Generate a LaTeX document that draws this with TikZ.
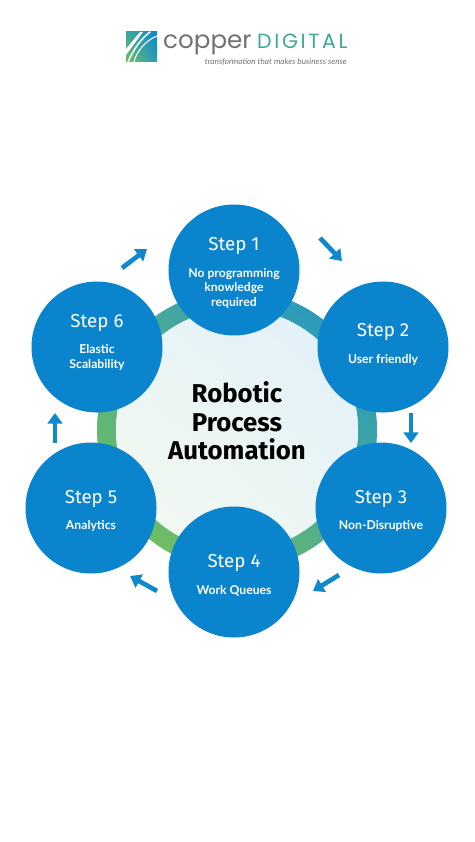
\documentclass[tikz,border=0pt]{standalone}
\usepackage{fontspec}
\setmainfont{Lato}
\newfontfamily\headfont{Fira Sans}
\newfontfamily\logofont{Poppins}
\usetikzlibrary{arrows.meta, shadings}
\definecolor{stepblue}{HTML}{0B84CE}
\definecolor{flowblue}{HTML}{1088CC}
\definecolor{ringteal}{HTML}{2B9BBB}
\definecolor{ringgreen}{HTML}{70BD63}
\definecolor{hubblue}{HTML}{E3F1F8}
\definecolor{hubgreen}{HTML}{F1F8F1}
\definecolor{logogrey}{HTML}{6E7276}
\definecolor{logoteal}{HTML}{3FA79A}
\newcommand{\stepname}[2][0pt]{{\headfont\mdseries\fontsize{16}{20}\selectfont\rule{0pt}{#1}#2}}
\newcommand{\pushup}[1]{\rule[-#1]{0pt}{0pt}}
\begin{document}
\begin{tikzpicture}[
    x=0.03cm, y=-0.03cm,
    stepnode/.style={circle, fill=stepblue, text=white, minimum size=3.93cm, inner sep=0pt, align=center,
        font=\bfseries\fontsize{10.4}{12.6}\selectfont},
    flow/.style={-{Triangle[length=9pt, width=12.5pt]}, line width=4pt, flowblue},
    title/.style={align=center, font=\headfont\bfseries\fontsize{22}{24.5}\selectfont}
]
    \useasboundingbox (0,0) rectangle (474,842);

    % ring and hub
    \path[even odd rule, top color=ringteal, bottom color=ringgreen, shading angle=-40]
        (237,430) circle[radius=140] circle[radius=121];
    \node[circle, minimum size=7.26cm, inner sep=0pt, top color=hubblue, bottom color=hubgreen, shading angle=-40] (hub) at (237,430) {};
    \node[title] (rpa) at (237,421) {Robotic\\Process\\Automation};

    % steps
    \node[stepnode] (s1) at (234,270) {\stepname[16.5pt]{Step 1}\\[10pt]No programming\\knowledge\\required};
    \node[stepnode] (s2) at (383,347) {\stepname{Step 2}\\[10pt]User friendly\pushup{6pt}};
    \node[stepnode] (s3) at (381,508) {\stepname[16.5pt]{Step 3}\\[10pt]Non-Disruptive};
    \node[stepnode] (s4) at (234,572) {\stepname[16.5pt]{Step 4}\\[10pt]Work Queues};
    \node[stepnode] (s5) at (91,508) {\stepname[16.5pt]{Step 5}\\[10pt]Analytics};
    \node[stepnode] (s6) at (97,347) {\stepname{Step 6}\\[10pt]Elastic\\Scalability\pushup{9.5pt}};

    % arrows
    \coordinate (a1) at (320,238); \coordinate (b1) at (342,261);
    \coordinate (a2) at (411,413); \coordinate (b2) at (411,443);
    \coordinate (a3) at (339,575); \coordinate (b3) at (313,591);
    \coordinate (a4) at (157,591); \coordinate (b4) at (130,576);
    \coordinate (a5) at (55,443);  \coordinate (b5) at (55,413);
    \coordinate (a6) at (122,268); \coordinate (b6) at (147,249);
    \foreach \i in {1,...,6}
        \draw[flow] (a\i) -- (b\i);

    % logo
    \shade[upper left=logoteal, upper right=stepblue, lower right=ringteal, lower left=ringgreen]
        (126,32) rectangle (157,62);
    \draw[white, line width=1.3pt, line cap=round] (128,62) .. controls (134,48) and (142,38) .. (150,32);
    \draw[white, line width=0.9pt, line cap=round] (134,62) .. controls (136,52) and (146,40) .. (157,36);
    \fill[white] (126,49) -- (140,32) -- (143,32) -- (126,55) -- cycle;
    \node[anchor=base west, inner sep=0pt, text=logogrey, font=\logofont\fontsize{21}{24}\selectfont] (copper) at (163,49) {copper};
    \node[anchor=base west, inner sep=0pt, text=logoteal, font=\logofont\fontsize{17.5}{24}\selectfont\addfontfeature{LetterSpace=13}] (digital) at (257,49) {DIGITAL};
    \node[anchor=base east, inner sep=0pt, text=logogrey, font=\itshape\fontsize{7}{8}\selectfont] (tagline) at (347,64) {transformation that makes business sense};
\end{tikzpicture}
\end{document}
